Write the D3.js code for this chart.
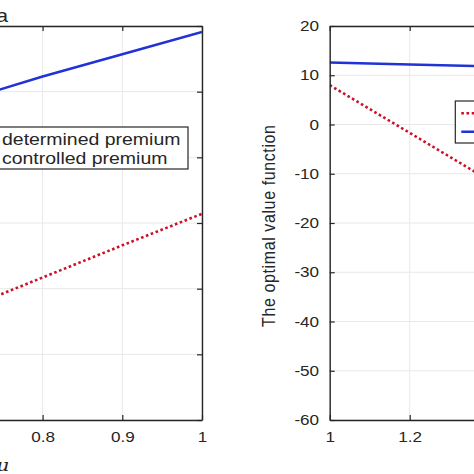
<!DOCTYPE html>
<html>
<head>
<meta charset="utf-8">
<script src="https://cdn.jsdelivr.net/npm/d3@7"></script>
<style>
  body { margin: 0; background: #fff; }
  text { font-family: "Liberation Sans", Arial, Helvetica, sans-serif; fill: #262626; }
</style>
</head>
<body>
<svg id="chart" width="474" height="474"></svg>
<script>
// left panel (only its right part is in the crop)
const muVals = [0.5, 0.6, 0.7, 0.8, 0.9, 1.0];
const leftControlled = [41.5, 45.0, 48.6, 52.3, 55.7, 59.1];
const leftDetermined = [7.0, 11.9, 16.8, 21.7, 26.6, 31.4];
const leftXTicks = [0.8, 0.9, 1];
const leftYTicks = [0, 10, 20, 30, 40, 50, 60];

// right panel (only its left part is in the crop)
const xVals = [1.0, 1.2, 1.4, 1.6, 1.8, 2.0];
const rightControlled = [12.6, 12.2, 11.8, 11.4, 11.0, 10.6];
const rightDetermined = [8.0, -1.7, -11.4, -21.1, -30.8, -40.5];
const rightXTicks = [1, 1.2];
const rightYTicks = [20, 10, 0, -10, -20, -30, -40, -50, -60];

const legendLabels = ["determined premium", "controlled premium"];

const RED = "#cc1028", BLUE = "#1f33d6", AX = "#262626", GRID = "#e8e8e8";
const SX = 1.18; // the picture is a bit stretched sideways

const svg = d3.select("#chart");
const plotTop = 26, plotBottom = 420;
const plain = d => String(d); // matlab style, plain hyphen minus

function panel(id, xDomain, xRange, yDomain, xTicks, yTicks) {
    const x = d3.scaleLinear().domain(xDomain).range(xRange);
    const y = d3.scaleLinear().domain(yDomain).range([plotBottom, plotTop]);
    const g = svg.append("g");
    const x0 = xRange[0], x1 = xRange[1];

    g.append("clipPath").attr("id", id)
        .append("rect").attr("x", x0).attr("y", plotTop)
        .attr("width", x1 - x0).attr("height", plotBottom - plotTop);

    // grid
    g.selectAll(".gx").data(xTicks).enter().append("line")
        .attr("x1", d => x(d)).attr("x2", d => x(d))
        .attr("y1", plotTop).attr("y2", plotBottom)
        .attr("stroke", GRID);
    g.selectAll(".gy").data(yTicks).enter().append("line")
        .attr("x1", x0).attr("x2", x1)
        .attr("y1", d => y(d)).attr("y2", d => y(d))
        .attr("stroke", GRID);

    return { x, y, g };
}

function frame(p, xTicks, yTicks, yLabels) {
    const { x, y, g } = p;
    const [x0, x1] = x.range();
    const axes = g.append("g");

    axes.append("g").attr("transform", `translate(0,${plotBottom})`)
        .call(d3.axisBottom(x).tickValues(xTicks).tickSizeInner(-5).tickSizeOuter(0)
            .tickFormat(plain).tickPadding(12));
    axes.append("g").attr("transform", `translate(0,${plotTop})`)
        .call(d3.axisTop(x).tickValues(xTicks).tickSizeInner(-5).tickSizeOuter(0).tickFormat(""));
    axes.append("g").attr("transform", `translate(${x0},0)`)
        .call(d3.axisLeft(y).tickValues(yTicks).tickSizeInner(-5).tickSizeOuter(0).tickPadding(9)
            .tickFormat(yLabels ? plain : ""));
    axes.append("g").attr("transform", `translate(${x1},0)`)
        .call(d3.axisRight(y).tickValues(yTicks).tickSizeInner(-5).tickSizeOuter(0).tickFormat(""));

    axes.selectAll(".domain").attr("stroke", AX).attr("stroke-width", 1.4);
    axes.selectAll(".tick line").attr("stroke", AX).attr("stroke-width", 1.2);
    axes.selectAll("text")
        .style("font-size", "14.5px")
        .attr("fill", AX)
        .attr("transform", `scale(${SX},1)`);
}

function series(p, id, xs, ys, color, dotted) {
    const line = d3.line().x((d, i) => p.x(xs[i])).y(d => p.y(d));
    p.g.append("path").datum(ys)
        .attr("clip-path", `url(#${id})`)
        .attr("fill", "none")
        .attr("stroke", color)
        .attr("stroke-width", dotted ? 2.6 : 2.5)
        .attr("stroke-dasharray", dotted ? "2.6 2.6" : null)
        .attr("d", line);
}

function legend(p, lx, ly, w, h, fontSize) {
    const lg = p.g.append("g");
    lg.append("rect").attr("x", lx).attr("y", ly).attr("width", w).attr("height", h)
        .attr("fill", "#fff").attr("stroke", AX).attr("stroke-width", 1.2);
    const rows = [
        { label: legendLabels[0], color: RED, dotted: true },
        { label: legendLabels[1], color: BLUE, dotted: false }
    ];
    rows.forEach((r, i) => {
        const cy = ly + 12.3 + i * 18.4;
        lg.append("line")
            .attr("x1", lx + 6).attr("x2", lx + 44)
            .attr("y1", cy).attr("y2", cy)
            .attr("stroke", r.color).attr("stroke-width", 2.6)
            .attr("stroke-dasharray", r.dotted ? "2.6 2.6" : null);
        lg.append("text")
            .attr("transform", `translate(${lx + 50},${cy + 6}) scale(${SX},1)`)
            .style("font-size", fontSize + "px")
            .text(r.label);
    });
}

// ---------- left panel ----------
const L = panel("clipL", [0.5, 1], [-196.5, 202], [0, 60], leftXTicks, leftYTicks);
series(L, "clipL", muVals, leftControlled, BLUE, false);
series(L, "clipL", muVals, leftDetermined, RED, true);
frame(L, leftXTicks, leftYTicks, false);
legend(L, -48, 127, 236, 42, 16.5);

L.g.append("text")
    .attr("text-anchor", "end")
    .attr("transform", `translate(8,21.5) scale(${SX},1)`)
    .style("font-size", "18px")
    .text("a");
L.g.append("text")
    .attr("text-anchor", "end")
    .attr("transform", `translate(9,471) scale(${SX},1)`)
    .style("font-size", "17px")
    .style("font-style", "italic")
    .style("font-family", "'DejaVu Serif', serif")
    .text("μ");

// ---------- right panel ----------
const R = panel("clipR", [1, 2], [329.7, 729.7], [-60, 20], rightXTicks, rightYTicks);
series(R, "clipR", xVals, rightControlled, BLUE, false);
series(R, "clipR", xVals, rightDetermined, RED, true);
frame(R, rightXTicks, rightYTicks, true);
legend(R, 455.3, 101, 250, 42, 16.5);

R.g.append("text")
    .attr("text-anchor", "middle")
    .attr("transform", `translate(275,226) scale(${SX},1) rotate(-90)`)
    .style("font-size", "16px")
    .attr("textLength", 202)
    .text("The optimal value function");
</script>
</body>
</html>
